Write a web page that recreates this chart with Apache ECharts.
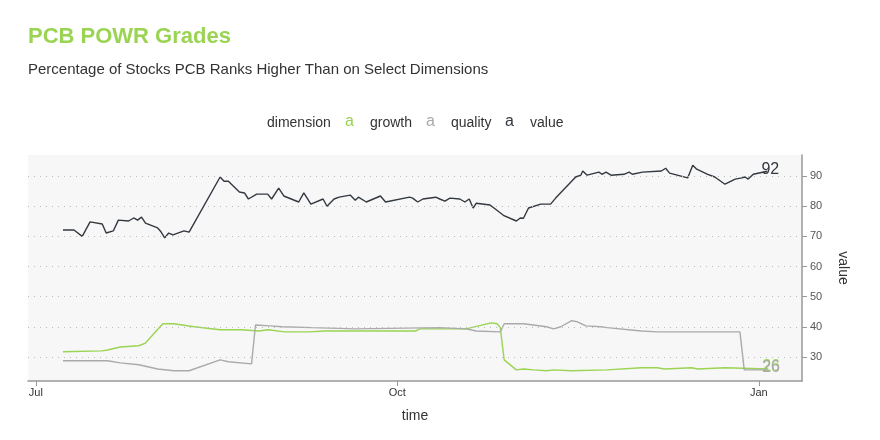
<!DOCTYPE html>
<html><head><meta charset="utf-8">
<script src="https://cdn.jsdelivr.net/npm/echarts@6/dist/echarts.min.js"></script>
<style>html,body{margin:0;padding:0;background:#fff}#c{width:880px;height:440px}</style>
</head><body><div id="c"></div>
<script>
// day offsets from Jul 1, paired with values
const valueSeries = [[6.9,72.1],[9.7,72.1],[11.8,70],[13.8,74.8],[16.9,74.1],[17.9,71.1],[19.7,71.8],[21,75.4],[23.6,75.1],[24.9,76.1],[25.9,75.4],[26.9,76.4],[27.9,74.4],[31,72.8],[31.8,71.6],[32.8,69.5],[33.8,71.1],[34.9,70.5],[37.7,71.8],[39,71.4],[46.9,89.7],[47.9,88.3],[49,88.3],[51.8,84.7],[53.1,84.4],[54.1,82.4],[56.2,84],[59,84],[60,82.4],[61.8,86],[63.1,83.4],[66.9,81.4],[68.2,84.4],[70,80.7],[73.1,82.4],[74.1,80],[75.9,82.4],[77.2,83],[80,83.7],[81.3,82],[82.1,83],[84.1,81.4],[87.7,83.4],[89,81.4],[95.1,83],[95.9,82.7],[97.2,81.4],[98.5,82.4],[101.8,83],[102.8,82.4],[103.3,83],[104.1,81.7],[105.4,82.7],[107.9,82.4],[109.2,81.4],[110.3,82.4],[111.3,79.4],[112.1,81],[115.6,80.4],[119,77],[122.3,75.1],[123.3,76.1],[124.1,76],[125.4,79.4],[128.5,80.7],[131,80.7],[132.3,82.7],[137.4,89.7],[138.7,90.3],[139.2,91.7],[140.3,90.3],[143.3,91.3],[144.1,90.6],[145.1,91.3],[146.4,90.3],[149.7,90.6],[151,91.3],[151.8,90.6],[154.4,91.3],[159.2,91.7],[160.3,92.6],[161.3,91],[165.9,89.4],[167.2,93.6],[168.2,92.3],[171,90.6],[172.8,89.7],[175.4,87.3],[178,89],[179.7,89.4],[180.5,89.7],[181.3,89],[182.6,90.6],[186.2,91.6]];
const growthSeries = [[6.9,31.7],[16.9,32],[18.2,32.3],[21.5,33.3],[26.2,33.7],[27.9,34.6],[32.3,41],[35.1,41],[40.3,40],[46.9,39],[52.3,39],[56.7,38.6],[59.2,39],[63.3,38.3],[69.5,38.3],[73.6,38.6],[86.4,38.6],[96.7,38.6],[97.7,39.3],[109.5,39.3],[115.9,41.3],[117.4,41],[118.2,39.7],[119.2,29],[122.3,25.7],[124.1,26],[126.7,25.7],[130,25.4],[131.8,25.7],[136.2,25.4],[145.4,25.7],[154.1,26.4],[158.2,26.4],[160,26],[166.9,26.4],[168.5,26],[175.4,26.4],[186.4,26]];
const qualitySeries = [[6.9,28.7],[18.2,28.7],[21.5,28],[26.2,27.4],[31,26],[35.1,25.4],[39,25.4],[46.9,29],[49,28.4],[54.9,27.7],[55.9,40.6],[59.5,40.3],[62.6,40],[70.3,39.7],[81.3,39.3],[102.8,39.7],[109.5,39.3],[112.1,38.6],[118.2,38.3],[119.2,41],[124.1,41],[130,40],[131.8,39.3],[133.6,40],[136.4,42],[137.7,41.7],[140,40.3],[143.8,40],[145.4,39.7],[154.1,38.6],[158.2,38.3],[166.9,38.3],[179.2,38.3],[180.3,25.7],[186.4,25.7]];
const xTicks = [0, 92, 184];
const xTickLabels = ['Jul', 'Oct', 'Jan'];
const yTicks = [30, 40, 50, 60, 70, 80, 90];

const chart = echarts.init(document.getElementById('c'));
const mk = (name, data, color) => ({
  name, type: 'line', data, showSymbol: false, symbol: 'none',
  lineStyle: { color, width: 1.4 }, itemStyle: { color },
  endLabel: { show: true, color, fontSize: 16, fontFamily: 'Liberation Sans', offset: [-14, -2],
    formatter: p => Math.round(p.value[1]) }
});
chart.setOption({
  animation: false,
  title: [
    { text: 'PCB POWR Grades', left: 23, top: 21, textStyle: { color: '#9ad452', fontSize: 22, fontWeight: 'bold', fontFamily: 'Liberation Sans' } },
    { text: 'Percentage of Stocks PCB Ranks Higher Than on Select Dimensions', left: 23, top: 57, textStyle: { color: '#333', fontSize: 15, fontWeight: 'normal', fontFamily: 'Liberation Sans' } }
  ],
  graphic: [
    { type: 'text', left: 267, top: 116, style: { text: 'dimension', fontSize: 14, fill: '#333', fontFamily: 'Liberation Sans' } },
    { type: 'text', left: 345, top: 114, style: { text: 'a', fontSize: 16, fill: '#9ad452', fontFamily: 'Liberation Sans' } },
    { type: 'text', left: 370, top: 116, style: { text: 'growth', fontSize: 14, fill: '#333', fontFamily: 'Liberation Sans' } },
    { type: 'text', left: 426, top: 114, style: { text: 'a', fontSize: 16, fill: '#aaa', fontFamily: 'Liberation Sans' } },
    { type: 'text', left: 451, top: 116, style: { text: 'quality', fontSize: 14, fill: '#333', fontFamily: 'Liberation Sans' } },
    { type: 'text', left: 505, top: 114, style: { text: 'a', fontSize: 16, fill: '#333840', fontFamily: 'Liberation Sans' } },
    { type: 'text', left: 530, top: 116, style: { text: 'value', fontSize: 14, fill: '#333', fontFamily: 'Liberation Sans' } }
  ],
  grid: { left: 28, right: 78, top: 155, bottom: 59, show: true, backgroundColor: '#f7f7f7', borderWidth: 0 },
  xAxis: {
    type: 'value', min: -2, max: 195, name: 'time', nameLocation: 'middle', nameGap: 28,
    nameTextStyle: { fontSize: 14, color: '#333', fontFamily: 'Liberation Sans' },
    axisLine: { onZero: false, lineStyle: { color: '#999', width: 1.5 } },
    axisTick: { show: true, customValues: xTicks, lineStyle: { color: '#999' } },
    axisLabel: { customValues: xTicks, color: '#333', fontSize: 11, margin: 6, formatter: v => xTickLabels[xTicks.indexOf(v)] || '' },
    splitLine: { show: false }
  },
  yAxis: {
    type: 'value', position: 'right', min: 22, max: 97, name: 'value', nameLocation: 'middle', nameGap: 34, nameRotate: -90,
    nameTextStyle: { fontSize: 14, color: '#333', fontFamily: 'Liberation Sans' },
    axisLine: { show: true, onZero: false, lineStyle: { color: '#999', width: 1.5 } },
    axisTick: { show: true, customValues: yTicks, lineStyle: { color: '#999' } },
    axisLabel: { customValues: yTicks, color: '#555', fontSize: 11 },
    splitLine: { show: false }
  },
  series: [
    Object.assign(mk('growth', growthSeries, '#9ad452'), {
      markLine: { silent: true, symbol: 'none', label: { show: false },
        lineStyle: { type: [1, 5], color: '#bbb', width: 1 },
        data: yTicks.map(v => ({ yAxis: v })) }
    }),
    mk('quality', qualitySeries, '#aaaaaa'),
    mk('value', valueSeries, '#333840')
  ]
});
</script></body></html>
